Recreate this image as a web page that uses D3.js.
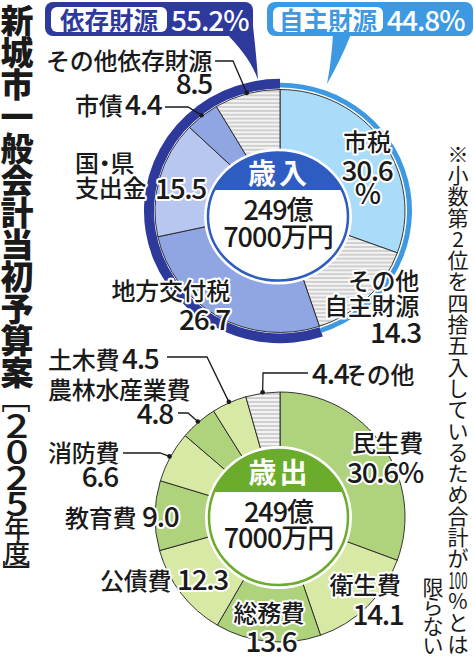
<!DOCTYPE html>
<html>
<head>
<meta charset="utf-8">
<script src="https://cdn.jsdelivr.net/npm/d3@7"></script>
<style>
html, body { margin: 0; padding: 0; background: #fff; }
svg { display: block; font-family: "Noto Sans CJK JP", "Noto Sans", sans-serif; }
</style>
</head>
<body>
<svg id="chart" width="474" height="656"></svg>
<script>
// revenue (歳入)
var revenueLabels = ["市税", "その他自主財源", "地方交付税", "国・県支出金", "市債", "その他依存財源"];
var revenueValues = [30.6, 14.3, 26.7, 15.5, 4.4, 8.5];
var revenueGroup = [1, 1, 0, 0, 0, 0];
var groupNames = ["依存財源", "自主財源"];
var groupShares = [55.2, 44.8];
var revenueTotal = ["249億", "7000万円"];

// expenditure (歳出)
var expenseLabels = ["民生費", "衛生費", "総務費", "公債費", "教育費", "消防費", "農林水産業費", "土木費", "その他"];
var expenseValues = [30.6, 14.1, 13.6, 12.3, 9.0, 6.6, 4.8, 4.5, 4.4];
var expenseTotal = ["249億", "7000万円"];

var titleText = "新城市一般会計当初予算案";
var yearText = ["［", "2", "0", "2", "5", "年", "度", "］"];
var noteText = "※小数第2位を四捨五入しているため合計が100%とは限らない";

// styles
var revenueFill = ["#a9dcf8", "url(#hatch)", "#8fa6e2", "#b8c7ef", "#8fa6e2", "url(#hatch)"];
var expenseFill = ["#afd27c", "#d8e9a6", "#afd27c", "#d8e9a6", "#afd27c", "#d8e9a6", "#afd27c", "#d8e9a6", "url(#hatch)"];
var groupColor = ["#2d3a9c", "#3d9ae2"];
var ink = "#1a1a1a";

// label layout: where each slice's name / value goes
var revenueLayout = [
  {name: [[367, 151]], anchor: "middle", value: [367, 181], vAnchor: "middle", unit: [368, 204]},
  {name: [[419, 290], [419, 315]], breaks: [3], anchor: "end", value: [421, 343], vAnchor: "end"},
  {name: [[230, 300]], anchor: "end", value: [230, 330], vAnchor: "end"},
  {name: [[75, 172], [75, 197]], breaks: [3], anchor: "start", value: [155, 199], vAnchor: "start"},
  {name: [[75, 115]], anchor: "start", value: [125, 115], vAnchor: "start", leader: [[165, 107], [188, 107]]},
  {name: [[212, 70]], anchor: "end", value: [212, 94], vAnchor: "end", leader: [[215, 61], [233, 61]]}
];
var expenseLayout = [
  {name: [[423, 452]], anchor: "end", value: [423, 483], vAnchor: "end", pct: true},
  {name: [[365, 594]], anchor: "middle", value: [378, 625], vAnchor: "middle"},
  {name: [[269, 622]], anchor: "middle", value: [271, 652], vAnchor: "middle"},
  {name: [[100, 590]], anchor: "start", value: [177, 590], vAnchor: "start"},
  {name: [[65, 527]], anchor: "start", value: [142, 527], vAnchor: "start"},
  {name: [[48, 462]], anchor: "start", value: [118, 487], vAnchor: "end", leader: [[123, 453], [160, 453]]},
  {name: [[48, 399]], anchor: "start", value: [173, 424], vAnchor: "end", leader: [[178, 413], [188, 413]]},
  {name: [[48, 369]], anchor: "start", value: [122, 369], vAnchor: "start", leader: [[167, 357], [207, 357]]},
  {name: [[343, 384]], anchor: "start", value: [312, 384], vAnchor: "start", leader: [[308, 373], [263, 373]]}
];

var svg = d3.select("#chart");
var defs = svg.append("defs");
var hatch = defs.append("pattern").attr("id", "hatch")
  .attr("patternUnits", "userSpaceOnUse").attr("width", 6).attr("height", 4);
hatch.append("rect").attr("width", 6).attr("height", 4).attr("fill", "#f3f3f3");
hatch.append("rect").attr("width", 6).attr("height", 2).attr("fill", "#cfcfcf");

var pie = d3.pie().sort(null).value(function(d) { return d; });

function donut(values, fills, cx, cy, r, sy) {
  var g = svg.append("g").attr("transform", "translate(" + cx + "," + cy + ") scale(1," + sy + ")");
  var arc = d3.arc().innerRadius(0).outerRadius(r);
  var slices = pie(values);
  g.selectAll("path.slice").data(slices).enter().append("path")
    .attr("class", "slice")
    .attr("d", arc)
    .attr("fill", function(d, i) { return fills[i]; })
    .attr("stroke", "#222").attr("stroke-width", 0.9);
  return {g: g, slices: slices, cx: cx, cy: cy, r: r, sy: sy};
}

function edgePoint(chart, d, r) {
  var a = (d.startAngle + d.endAngle) / 2;
  return [chart.cx + Math.sin(a) * r, chart.cy - Math.cos(a) * r * chart.sy];
}

function centerBadge(cx, cy, rx, ry, headBottom, color, head, lines, baselines, headBase) {
  var id = "clip" + Math.round(cy);
  defs.append("clipPath").attr("id", id)
    .append("ellipse").attr("cx", cx).attr("cy", cy).attr("rx", rx).attr("ry", ry);
  svg.append("ellipse").attr("cx", cx).attr("cy", cy).attr("rx", rx + 4).attr("ry", ry + 4).attr("fill", "#fff");
  svg.append("ellipse").attr("cx", cx).attr("cy", cy).attr("rx", rx).attr("ry", ry).attr("fill", "#fff");
  svg.append("rect").attr("clip-path", "url(#" + id + ")")
    .attr("x", cx - rx).attr("y", cy - ry).attr("width", rx * 2).attr("height", headBottom - (cy - ry))
    .attr("fill", color);
  svg.append("ellipse").attr("cx", cx).attr("cy", cy).attr("rx", rx).attr("ry", ry)
    .attr("fill", "none").attr("stroke", color).attr("stroke-width", 2.5);
  svg.append("text").attr("x", cx + 1).attr("y", headBase).attr("text-anchor", "middle")
    .attr("font-size", 28).attr("font-weight", 700).attr("letter-spacing", 3)
    .attr("fill", "#fff").text(head);
  lines.forEach(function(t, i) {
    svg.append("text").attr("x", cx).attr("y", baselines[i]).attr("text-anchor", "middle")
      .attr("font-size", 27).attr("font-weight", 500).attr("letter-spacing", -1)
      .attr("fill", ink).text(t);
  });
}

function labelText(layer, t, x, y, anchor, size, spacing) {
  var node = layer.append("text").attr("x", x).attr("y", y)
    .attr("text-anchor", anchor).attr("font-size", size)
    .attr("font-weight", 500)
    .attr("letter-spacing", spacing || 0)
    .attr("fill", ink)
    .attr("stroke", "#fff").attr("stroke-width", 4).attr("stroke-linejoin", "round")
    .attr("paint-order", "stroke")
    .text(t);
  // proportional middle dot, as in 国・県
  if (t.indexOf("・") >= 0) node.style("font-feature-settings", "'palt'");
  return node;
}

function sliceLabels(chart, labels, values, layout) {
  var layer = svg.append("g");
  chart.slices.forEach(function(d, i) {
    var L = layout[i];
    if (!L.leader) return;
    var pts = L.leader.concat([edgePoint(chart, d, chart.r + 1)]);
    layer.append("path").attr("d", d3.line()(pts))
      .attr("fill", "none").attr("stroke", ink).attr("stroke-width", 1.3);
    var p = pts[pts.length - 1];
    layer.append("circle").attr("cx", p[0]).attr("cy", p[1]).attr("r", 2.3).attr("fill", ink);
  });
  chart.slices.forEach(function(d, i) {
    var L = layout[i];
    var name = labels[i];
    var cuts = [0].concat(L.breaks || []).concat([name.length]);
    L.name.forEach(function(p, k) {
      labelText(layer, name.slice(cuts[k], cuts[k + 1]), p[0], p[1], L.anchor, 24, -0.3);
    });
    var v = values[i].toFixed(1) + (L.pct ? "%" : "");
    labelText(layer, v, L.value[0], L.value[1], L.vAnchor, 28, -1.3);
    if (L.unit) labelText(layer, "%", L.unit[0], L.unit[1], "middle", 28, 0);
  });
}

// top donut: revenue
var revChart = donut(revenueValues, revenueFill, 280, 211, 125, 0.972);

// group bands around the revenue pie
[0, 1].forEach(function(gi) {
  var s = revChart.slices.filter(function(d, i) { return revenueGroup[i] == gi; });
  var a0 = d3.min(s, function(d) { return d.startAngle; });
  var a1 = d3.max(s, function(d) { return d.endAngle; });
  var band = gi == 0 ? d3.arc().innerRadius(126).outerRadius(136)
                     : d3.arc().innerRadius(127).outerRadius(132);
  revChart.g.append("path").attr("d", band({startAngle: a0, endAngle: a1})).attr("fill", groupColor[gi]);
});

// bottom donut: expenditure
var expChart = donut(expenseValues, expenseFill, 280, 517, 125, 1);

centerBadge(278, 216.5, 70, 64, 190, "#2f5cc0", "歳入", revenueTotal, [220, 247], 184);
centerBadge(278.5, 517.5, 69.5, 67.5, 492, "#6cac2c", "歳出", expenseTotal, [522, 548], 483);

sliceLabels(revChart, revenueLabels, revenueValues, revenueLayout);
sliceLabels(expChart, expenseLabels, expenseValues, expenseLayout);

// group callout boxes
var boxes = [
  {x: 45, w: 208, split: 167, tail: "M227,34 C240,48 252,62 258,80 C257,62 255,45 253,26 Z"},
  {x: 267, w: 206, split: 383, tail: "M333,34 C332,52 330,68 327,84 C336,68 344,52 351,34 Z"}
];
boxes.forEach(function(b, gi) {
  var c = groupColor[gi];
  var g = svg.append("g");
  g.append("path").attr("d", b.tail).attr("fill", c);
  g.append("rect").attr("x", b.x).attr("y", 2).attr("width", b.w).attr("height", 34).attr("rx", 8).attr("fill", c);
  g.append("rect").attr("x", b.x + 6).attr("y", 7).attr("width", b.split - b.x - 6).attr("height", 25)
    .attr("rx", 6).attr("fill", "#fff");
  g.append("text").attr("x", (b.x + 6 + b.split) / 2).attr("y", 29.5).attr("text-anchor", "middle")
    .attr("font-size", 24.5).attr("font-weight", 700).attr("fill", c).text(groupNames[gi]);
  g.append("text").attr("x", b.split + 4).attr("y", 31).attr("font-size", 28).attr("letter-spacing", -1)
    .attr("font-weight", 500).attr("fill", "#fff").text(groupShares[gi].toFixed(1) + "%");
});

// vertical text: one glyph per cell
function vtext(tokens, x, y0, steps, size, weight, opts) {
  opts = opts || {};
  var g = svg.append("g");
  var y = y0;
  tokens.forEach(function(t, i) {
    var h = typeof steps == "number" ? steps : steps[i];
    var cy = y + h / 2;
    var fs = opts.sizes ? opts.sizes[i] : size;
    var multi = /^\d{2,}$/.test(t);
    var node = g.append("text").attr("x", x).attr("y", cy)
      .attr("text-anchor", "middle").attr("dominant-baseline", "central")
      .attr("font-size", multi ? fs * 1.15 : fs).attr("font-weight", weight)
      .attr("fill", ink).text(t);
    if (multi || (opts.wideDigits && /^\d$/.test(t))) {
      node.attr("textLength", opts.digitWidth || size * 0.9).attr("lengthAdjust", "spacingAndGlyphs");
    }
    // turn the brackets so they open toward the column
    if (t == "［") node.attr("transform", "rotate(90," + x + "," + (cy - 5) + ")").attr("y", cy - 5);
    if (t == "］") node.attr("transform", "rotate(90," + x + "," + (cy + 5) + ")").attr("y", cy + 5);
    y += h;
  });
}

vtext(titleText.split(""), 17, 3, 32, 33, 900);
vtext(yearText, 17, 398, [12, 26, 26, 26, 26, 25, 24, 12], 28, 500,
  {sizes: [28, 34, 34, 34, 34, 26, 26, 28], wideDigits: true, digitWidth: 23});

var noteTokens = noteText.match(/\d{2,}|./g);
var cut = noteTokens.indexOf("は") + 1;
vtext(noteTokens.slice(0, cut), 458, 142, 21.3, 21, 400);
vtext(noteTokens.slice(cut), 433, 576, 19.5, 21, 400);
</script>
</body>
</html>
